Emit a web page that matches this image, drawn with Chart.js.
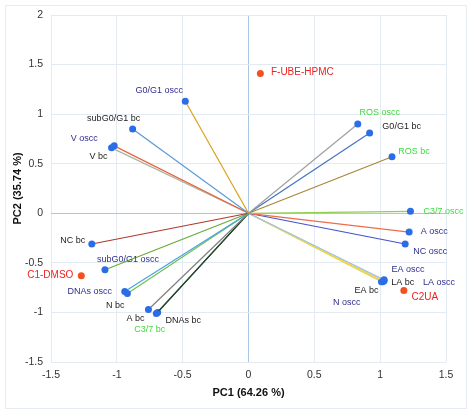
<!DOCTYPE html>
<html>
<head>
<meta charset="utf-8">
<script src="https://cdn.jsdelivr.net/npm/chart.js@4.4.1/dist/chart.umd.min.js"></script>
<style>
  html, body { margin: 0; padding: 0; background: #ffffff; }
  #wrap { width: 474px; height: 412px; }
</style>
</head>
<body>
<div id="wrap"><canvas id="pcaChart" width="474" height="412"></canvas></div>
<script>
// loading vectors (PC1, PC2)
const vectorNames = [
    "G0/G1 oscc", "subG0/G1 bc", "V oscc", "V bc", "NC bc",
    "subG0/G1 oscc", "DNAs oscc", "N bc", "A bc", "DNAs bc", "C3/7 bc",
    "ROS oscc", "G0/G1 bc", "ROS bc", "C3/7 oscc", "A oscc", "NC oscc",
    "EA oscc", "LA bc", "LA oscc", "EA bc", "N oscc"
];
const vectorPC1 = [
    -0.48, -0.88, -1.02, -1.04, -1.19,
    -1.09, -0.94, -0.92, -0.76, -0.70, -0.69,
    0.83, 0.92, 1.09, 1.23, 1.22, 1.19,
    1.03, 1.02, 1.03, 1.01, 1.02
];
const vectorPC2 = [
    1.13, 0.85, 0.68, 0.66, -0.31,
    -0.57, -0.79, -0.81, -0.97, -1.01, -1.00,
    0.90, 0.81, 0.57, 0.02, -0.19, -0.31,
    -0.67, -0.68, -0.68, -0.69, -0.69
];

// samples (scores)
const sampleNames = ["F-UBE-HPMC", "C1-DMSO", "C2UA"];
const samplePC1 = [0.09, -1.27, 1.18];
const samplePC2 = [1.41, -0.63, -0.78];

const xTicks = [-1.5, -1, -0.5, 0, 0.5, 1, 1.5];
const yTicks = [-1.5, -1, -0.5, 0, 0.5, 1, 1.5, 2];

// styling
const lineColors = [
    "#d9a21b", "#5b9bd5", "#e8603c", "#a9b3a0", "#b0392b",
    "#6aaa3a", "#4aa3e0", "#70c050", "#7f7f7f", "#1f4d2a", "#222222",
    "#a0a0a0", "#4472c4", "#a8873a", "#92d050", "#ed6d4a", "#4454c8",
    "#9dc3e6", "#ffd84a", "#9dc3e6", "#e6d84a", "#a9c8d8"
];
const NAVY = "#2e2e8f", BLACK = "#222222", GREEN = "#3cdc3c", RED = "#ee2222";
const labelColors = [
    NAVY, BLACK, NAVY, BLACK, BLACK,
    NAVY, NAVY, BLACK, BLACK, BLACK, GREEN,
    GREEN, BLACK, GREEN, GREEN, NAVY, NAVY,
    NAVY, BLACK, NAVY, BLACK, NAVY
];
// label centre offset from its point, px
const labelOffsets = [
    [-26, -11], [-19, -10], [-30, -7], [-13, 9], [-19, -4],
    [23, -10], [-35, 0], [-12, 12], [-13, 9], [27, 7], [-8, 17],
    [22, -12], [32, -6], [22, -5], [33, 0], [25, -1], [25, 7],
    [24, -10], [20, 2], [55, 2], [-15, 9], [-36, 21]
];
const sampleOffsets = [[42, -1], [-31, 0], [21, 7]];

const FONT = "'Liberation Sans', Arial, Helvetica, sans-serif";

const datasets = vectorNames.map((name, i) => ({
    label: name,
    data: [{ x: 0, y: 0 }, { x: vectorPC1[i], y: vectorPC2[i] }],
    showLine: true,
    borderColor: lineColors[i],
    borderWidth: 1.2,
    pointRadius: [0, 3.5],
    pointBackgroundColor: "#2b6de8",
    pointBorderWidth: 0,
    textColor: labelColors[i],
    textOffset: labelOffsets[i],
    textSize: 9
}));

sampleNames.forEach((name, i) => {
    datasets.push({
        label: name,
        data: [{ x: samplePC1[i], y: samplePC2[i] }],
        showLine: false,
        pointRadius: 3.5,
        pointBackgroundColor: "#f4511e",
        pointBorderWidth: 0,
        textColor: RED,
        textOffset: sampleOffsets[i],
        textSize: 10
    });
});

const frame = {
    id: "frame",
    beforeDraw(chart) {
        const ctx = chart.ctx;
        ctx.save();
        ctx.fillStyle = "#ffffff";
        ctx.fillRect(0, 0, chart.width, chart.height);
        ctx.strokeStyle = "#e6ecf2";
        ctx.lineWidth = 1;
        ctx.strokeRect(5.5, 5.5, 461, 403);
        ctx.restore();
    }
};

const pointLabels = {
    id: "pointLabels",
    afterDatasetsDraw(chart) {
        const ctx = chart.ctx;
        ctx.save();
        ctx.textAlign = "center";
        ctx.textBaseline = "middle";
        chart.data.datasets.forEach((ds, i) => {
            const meta = chart.getDatasetMeta(i);
            const el = meta.data[meta.data.length - 1];
            ctx.font = ds.textSize + "px " + FONT;
            ctx.fillStyle = ds.textColor;
            ctx.fillText(ds.label, el.x + ds.textOffset[0], el.y + ds.textOffset[1]);
        });
        ctx.restore();
    }
};

const gridColor = ctx => ctx.tick && ctx.tick.value === 0 ? "#a9c6e3" : "#e3eaf2";

new Chart(document.getElementById("pcaChart"), {
    type: "scatter",
    data: { datasets: datasets },
    options: {
        responsive: false,
        animation: false,
        layout: { padding: { top: 15, right: 28, left: 0, bottom: 0 } },
        plugins: {
            legend: { display: false },
            tooltip: { enabled: false }
        },
        scales: {
            x: {
                type: "linear",
                min: -1.5,
                max: 1.5,
                afterBuildTicks: scale => { scale.ticks = xTicks.map(v => ({ value: v })); },
                afterFit: scale => { scale.height = 50; },
                border: { display: false },
                grid: { color: gridColor, drawTicks: false, lineWidth: 1 },
                ticks: {
                    padding: 7,
                    color: "#333333",
                    font: { family: FONT, size: 10.5 },
                    callback: v => String(v)
                },
                title: {
                    display: true,
                    text: "PC1 (64.26 %)",
                    color: "#111111",
                    font: { family: FONT, size: 11, weight: "bold" },
                    padding: { top: 0, bottom: 12 }
                }
            },
            y: {
                type: "linear",
                min: -1.5,
                max: 2,
                afterBuildTicks: scale => { scale.ticks = yTicks.map(v => ({ value: v })); },
                afterFit: scale => { scale.width = 51; },
                border: { display: false },
                grid: { color: gridColor, drawTicks: false, lineWidth: 1 },
                ticks: {
                    padding: 8,
                    color: "#333333",
                    font: { family: FONT, size: 10.5 },
                    callback: v => String(v)
                },
                title: {
                    display: true,
                    text: "PC2 (35.74 %)",
                    color: "#111111",
                    font: { family: FONT, size: 11, weight: "bold" },
                    padding: { top: 11, bottom: 0 }
                }
            }
        }
    },
    plugins: [frame, pointLabels]
});
</script>
</body>
</html>
